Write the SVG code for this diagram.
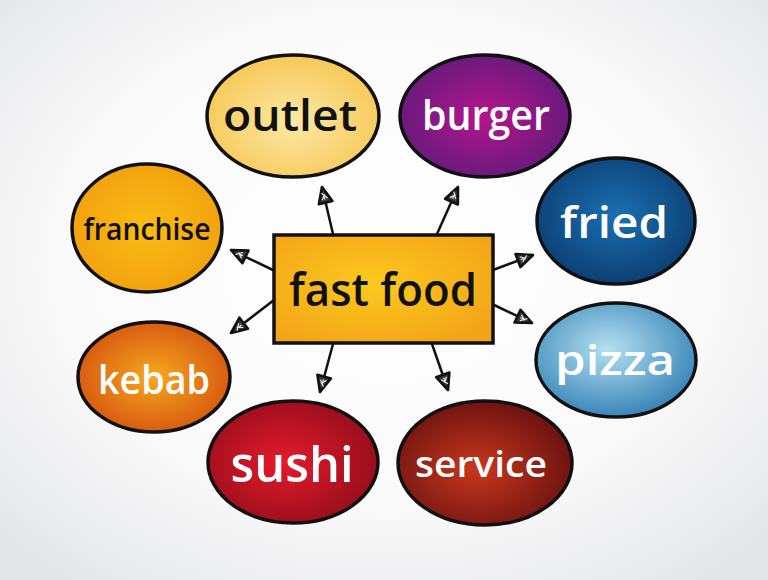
<svg xmlns="http://www.w3.org/2000/svg" width="768" height="580" viewBox="0 0 768 580">
<defs>
<radialGradient id="bg" cx="50%" cy="45%" r="70%">
<stop offset="0" stop-color="#ffffff"/><stop offset="0.6" stop-color="#fafafa"/><stop offset="1" stop-color="#e4e5e8"/>
</radialGradient>
<radialGradient id="gCenter" cx="45%" cy="45%" r="65%"><stop offset="0" stop-color="#fcc91e"/><stop offset="1" stop-color="#f3a418"/></radialGradient>
<radialGradient id="gOutlet" cx="50%" cy="55%" r="60%"><stop offset="0" stop-color="#fce8a6"/><stop offset="1" stop-color="#f6c650"/></radialGradient>
<radialGradient id="gBurger" cx="50%" cy="50%" r="60%"><stop offset="0" stop-color="#b5158c"/><stop offset="1" stop-color="#5c1b7a"/></radialGradient>
<radialGradient id="gFranchise" cx="50%" cy="50%" r="60%"><stop offset="0" stop-color="#f9bc14"/><stop offset="1" stop-color="#f29e0e"/></radialGradient>
<radialGradient id="gFried" cx="50%" cy="45%" r="60%"><stop offset="0" stop-color="#1a70b2"/><stop offset="1" stop-color="#0b3c6e"/></radialGradient>
<radialGradient id="gPizza" cx="45%" cy="40%" r="60%"><stop offset="0" stop-color="#b4e0f1"/><stop offset="1" stop-color="#3a86b8"/></radialGradient>
<radialGradient id="gKebab" cx="50%" cy="50%" r="60%"><stop offset="0" stop-color="#f6a81e"/><stop offset="1" stop-color="#d24e0e"/></radialGradient>
<radialGradient id="gSushi" cx="45%" cy="50%" r="60%"><stop offset="0" stop-color="#e41b2c"/><stop offset="1" stop-color="#920d1a"/></radialGradient>
<radialGradient id="gService" cx="45%" cy="55%" r="60%"><stop offset="0" stop-color="#c8381c"/><stop offset="1" stop-color="#681010"/></radialGradient>
<marker id="arr" viewBox="0 0 20 18" refX="18" refY="9" markerWidth="20" markerHeight="18" markerUnits="userSpaceOnUse" orient="auto">
<path d="M2,2 L18,9 L2,16 Z" fill="#3a3a3a" stroke="#111" stroke-width="2.6" stroke-linejoin="round"/>
<path d="M5,6 L10,10 M6,12 L12,7 M5,9 L8,9" stroke="#e8e8e8" stroke-width="1.2"/>
</marker>
</defs>
<style>
.node{stroke:#111;stroke-width:3.5}
.t{font-family:"Open Sans","Liberation Sans",sans-serif;font-weight:600;text-anchor:middle}
.dark{fill:#111}
.light{fill:#ffffff}
.conn line{stroke:#111;stroke-width:2.5;marker-end:url(#arr)}
</style>
<rect width="768" height="580" fill="url(#bg)"/>
<g id="connectors" class="conn">
<line x1="333" y1="234" x2="322" y2="187"/>
<line x1="437" y1="234" x2="458" y2="187"/>
<line x1="275" y1="271" x2="231" y2="250"/>
<line x1="274" y1="300" x2="231" y2="333"/>
<line x1="493" y1="270" x2="533" y2="255"/>
<line x1="492" y1="304" x2="532" y2="323"/>
<line x1="333" y1="344" x2="320" y2="392"/>
<line x1="432" y1="344" x2="448" y2="390"/>
</g>
<g id="center">
<rect class="node" x="274" y="235" width="219" height="108" fill="url(#gCenter)"/>
<text class="t dark" x="383" y="306" font-size="46" textLength="188" lengthAdjust="spacingAndGlyphs">fast food</text>
</g>
<g id="outlet">
<ellipse class="node" cx="293" cy="116" rx="86" ry="61" fill="url(#gOutlet)"/>
<text class="t dark" x="290" y="131" font-size="44" textLength="134" lengthAdjust="spacingAndGlyphs">outlet</text>
</g>
<g id="burger">
<ellipse class="node" cx="485" cy="116" rx="85" ry="61" fill="url(#gBurger)"/>
<text class="t light" x="486" y="130" font-size="42" textLength="128" lengthAdjust="spacingAndGlyphs">burger</text>
</g>
<g id="franchise">
<ellipse class="node" cx="147" cy="228" rx="75" ry="64" fill="url(#gFranchise)"/>
<text class="t dark" x="147" y="240" font-size="30" textLength="127" lengthAdjust="spacingAndGlyphs">franchise</text>
</g>
<g id="fried">
<ellipse class="node" cx="616" cy="221" rx="79" ry="63" fill="url(#gFried)"/>
<text class="t light" x="614" y="238" font-size="44" textLength="108" lengthAdjust="spacingAndGlyphs">fried</text>
</g>
<g id="pizza">
<ellipse class="node" cx="616" cy="360" rx="80" ry="57" fill="url(#gPizza)"/>
<text class="t light" x="615" y="375" font-size="42" textLength="120" lengthAdjust="spacingAndGlyphs">pizza</text>
</g>
<g id="kebab">
<ellipse class="node" cx="154" cy="377" rx="76" ry="55" fill="url(#gKebab)"/>
<text class="t light" x="154" y="394" font-size="40" textLength="112" lengthAdjust="spacingAndGlyphs">kebab</text>
</g>
<g id="sushi">
<ellipse class="node" cx="293" cy="462" rx="85" ry="61" fill="url(#gSushi)"/>
<text class="t light" x="292" y="482" font-size="48" textLength="123" lengthAdjust="spacingAndGlyphs">sushi</text>
</g>
<g id="service">
<ellipse class="node" cx="485" cy="463" rx="87" ry="62" fill="url(#gService)"/>
<text class="t light" x="481" y="477" font-size="36" textLength="132" lengthAdjust="spacingAndGlyphs">service</text>
</g>
</svg>
